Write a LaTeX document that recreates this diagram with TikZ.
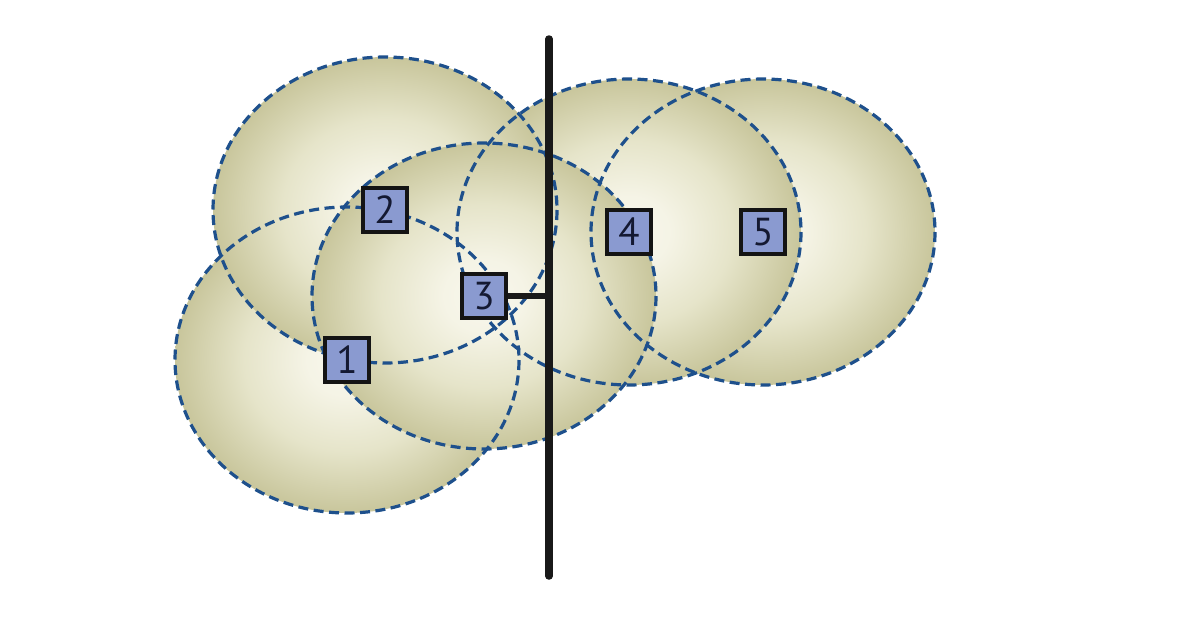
\documentclass[tikz,border=0pt]{standalone}
\usepackage{fontspec}
\setmainfont{PT Sans}
\usetikzlibrary{shadows}
\definecolor{dashblue}{RGB}{30,80,140}
\definecolor{nodefill}{RGB}{138,154,208}
\definecolor{digit}{RGB}{20,25,50}
\pgfdeclareradialshading{zoneshade}{\pgfpoint{0bp}{0bp}}{%
  rgb(0bp)=(0.975,0.97,0.93);
  rgb(6bp)=(0.96,0.955,0.9);
  rgb(15bp)=(0.9,0.895,0.79);
  rgb(25bp)=(0.785,0.775,0.61);
  rgb(50bp)=(0.785,0.775,0.61)}
\begin{document}
\begin{tikzpicture}[x=1pt,y=-1pt,
  zone/.style={shading=zoneshade},
  zoneline/.style={draw=dashblue,line width=3.2pt,dash pattern=on 10pt off 5.5pt},
  station/.style={draw=black!92,line width=3.6pt,fill=nodefill,minimum size=44pt,inner sep=0pt,
     text=digit,font=\fontsize{39}{39}\selectfont,
     drop shadow={shadow xshift=1.5pt,shadow yshift=-1.5pt,opacity=0.35}},
  bus/.style={draw=black!90,line width=7.5pt}]
\useasboundingbox (0,0) rectangle (1177,629);
\fill[white] (0,0) rectangle (1177,629);
% coverage areas
\coordinate (c1) at (347,360);
\coordinate (c2) at (385,210);
\coordinate (c3) at (484,296);
\coordinate (c4) at (629,232);
\coordinate (c5) at (763,232);
\foreach \c in {c5,c4,c1,c2,c3}{
  \shade[zone] (\c) ellipse [x radius=172, y radius=153];
}
\foreach \c in {c1,c2,c3,c4,c5}{
  \draw[zoneline] (\c) ellipse [x radius=172, y radius=153];
}
% backbone
\coordinate (top) at (549,39);
\coordinate (bot) at (549,576);
\coordinate (tap) at (549,296);
\draw[bus,line cap=round] (top) -- (bot);
% stations
\node[station] (n1) at (c1) {1};
\node[station] (n2) at (c2) {2};
\node[station] (n3) at (c3) {3};
\node[station] (n4) at (c4) {4};
\node[station] (n5) at (c5) {5};
\draw[bus,line width=6.5pt] (n3.east) -- (tap);
\end{tikzpicture}
\end{document}
